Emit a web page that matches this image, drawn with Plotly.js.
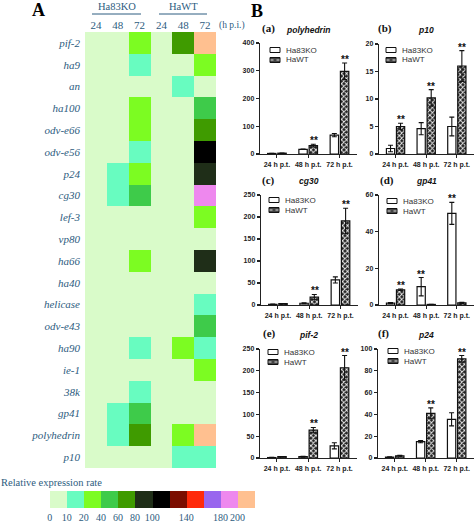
<!DOCTYPE html>
<html><head><meta charset="utf-8">
<script src="https://cdn.plot.ly/plotly-3.0.1.min.js"></script>
<style>html,body{margin:0;padding:0;background:#fff}</style></head>
<body><div id="chart" style="width:474px;height:521px"></div>
<script>
const W = 474, H = 521;
// Panel A: rate class per gene (0..11 indexes the legend bins), columns KO24 KO48 KO72 WT24 WT48 WT72
const genes = ['pif-2','ha9','an','ha100','odv-e66','odv-e56','p24','cg30','lef-3','vp80','ha66','ha40','helicase','odv-e43','ha90','ie-1','38k','gp41','polyhedrin','p10'];
const hours = ['24','48','72','24','48','72'];
const rateClass = [
 [0,0,2,0,4,11],[0,0,1,0,0,2],[0,0,0,0,1,0],[0,0,2,0,0,3],[0,0,2,0,0,4],
 [0,0,1,0,0,6],[0,1,2,0,0,5],[0,1,3,0,0,10],[0,0,0,0,0,2],[0,0,0,0,0,0],
 [0,0,2,0,0,5],[0,0,0,0,0,0],[0,0,0,0,0,1],[0,0,0,0,0,3],[0,0,1,0,2,1],
 [0,0,0,0,0,2],[0,0,1,0,0,0],[0,1,3,0,0,0],[0,1,4,0,2,11],[0,0,0,0,1,1]];
const binColors = ['#d9fbc9','#68fcc0','#7cfc22','#3ecb4a','#3f9b00','#1f2e18','#000000','#7b0d00','#ff2a0a','#9966ee','#ee88ee','#ffc090'];
const rateLabels = ['0','10','20','40','60','80','100','140','180','200'];
const rateLabelBins = [0,1,2,3,4,5,6,8,10,11];
// Panel B
const timepoints = ['24 h p.t.','48 h p.t.','72 h p.t.'];
const koPolyhedrin=[2,17,68], wtPolyhedrin=[3,30,298], koPolyhedrinErr=[.5,1,6], wtPolyhedrinErr=[.5,5,30];
const koP10=[1,4.6,5], wtP10=[5,10.2,16], koP10Err=[.6,1.1,1.7], wtP10Err=[.6,1.5,2.8];
const koCg30=[1.5,4,57], wtCg30=[3,18,191], koCg30Err=[.5,1,7], wtCg30Err=[.5,6,29];
const koGp41=[1,10,50], wtGp41=[8.3,.3,1.2], koGp41Err=[.3,5,6], wtGp41Err=[.4,.1,.3];
const koPif2=[1,3,28], wtPif2=[3,64,207], koPif2Err=[.5,1,7], wtPif2Err=[.5,6,28];
const koP24=[.8,15,35.5], wtP24=[2,41,91], koP24Err=[.2,1,6], wtP24Err=[.4,5,3];

const panels = [
 {tag:'(a)',name:'polyhedrin',ko:koPolyhedrin,wt:wtPolyhedrin,koE:koPolyhedrinErr,wtE:wtPolyhedrinErr,max:400,dt:100,x0:260,top:43,bot:154,stars:[['wt',1],['wt',2]],lx:270,ly:50},
 {tag:'(b)',name:'p10',ko:koP10,wt:wtP10,koE:koP10Err,wtE:wtP10Err,max:20,dt:5,x0:379,top:44,bot:154,stars:[['wt',0],['wt',1],['wt',2]],lx:386,ly:50},
 {tag:'(c)',name:'cg30',ko:koCg30,wt:wtCg30,koE:koCg30Err,wtE:wtCg30Err,max:250,dt:50,x0:261,top:195,bot:305,stars:[['wt',1],['wt',2]],lx:269,ly:200},
 {tag:'(d)',name:'gp41',ko:koGp41,wt:wtGp41,koE:koGp41Err,wtE:wtGp41Err,max:60,dt:20,x0:379,top:195,bot:305,stars:[['wt',0],['ko',1],['ko',2]],lx:387,ly:201},
 {tag:'(e)',name:'pif-2',ko:koPif2,wt:wtPif2,koE:koPif2Err,wtE:wtPif2Err,max:250,dt:50,x0:260,top:349,bot:458,stars:[['wt',1],['wt',2]],lx:268,ly:352},
 {tag:'(f)',name:'p24',ko:koP24,wt:wtP24,koE:koP24Err,wtE:wtP24Err,max:100,dt:20,x0:378,top:349,bot:458,stars:[['wt',1],['wt',2]],lx:388,ly:351}
];
const tagPos = [[261,29,308,30],[377,29,426,30],[261,180,309,181],[379,180,426,181],[262,333,308,335],[377,333,426,335]];

const INK = '#2d5c80', DARK = '#222';
const px = x => x / W, py = y => 1 - y / H;
const serif = 'Liberation Serif', sans = 'Liberation Sans';
const colorscale = [];
binColors.forEach((c,i)=>{colorscale.push([i/12,c]);colorscale.push([(i+1)/12,c]);});

const data = [{
  type:'heatmap', z:rateClass, x:[0,1,2,3,4,5], y:genes.map((g,i)=>i), xaxis:'x', yaxis:'y',
  zmin:0, zmax:12, colorscale, xgap:0, ygap:0, hoverinfo:'skip', showscale:true,
  colorbar:{orientation:'h', x:px(49.7), xanchor:'left', y:py(490.5), yanchor:'top', yref:'paper', thickness:16.5, thicknessmode:'pixels',
    len:205.2, lenmode:'pixels', outlinewidth:0, borderwidth:0, xpad:0, ypad:0,
    tickmode:'array', tickvals:rateLabelBins, ticktext:rateLabels, ticks:'', ticklabelposition:'outside bottom', tickangle:0,
    tickfont:{family:serif,size:10,color:INK}}
}];
const layout = {
  width:W, height:H, margin:{l:0,r:0,t:0,b:0,autoexpand:false}, paper_bgcolor:'#fff', plot_bgcolor:'#fff',
  showlegend:false, bargap:.345, bargroupgap:.18, barmode:'group',
  xaxis:{domain:[px(85),px(216)], range:[-.5,5.5], side:'top', anchor:'y', tickmode:'array', tickvals:[0,1,2,3,4,5], ticktext:hours,
    ticks:'', showgrid:false, zeroline:false, showline:false, tickfont:{family:serif,size:11,color:INK}, automargin:false},
  yaxis:{domain:[py(468),py(32)], range:[19.5,-.5], anchor:'x', tickmode:'array', tickvals:genes.map((g,i)=>i), ticktext:genes.map(g=>'<i>'+g+'</i>'),
    ticks:'', showgrid:false, zeroline:false, showline:false, tickfont:{family:serif,size:11,color:INK}, automargin:false, ticklabelstandoff:4},
  annotations:[], shapes:[]
};
const txt = (x,y,text,font,anchor) => layout.annotations.push({xref:'paper',yref:'paper',x:px(x),y:py(y),text,showarrow:false,font,xanchor:anchor||'center',yanchor:'middle',borderpad:0});
txt(38,10,'A',{family:serif,size:18,color:'#000',weight:'bold'});
txt(257,10.5,'B',{family:serif,size:18,color:'#000',weight:'bold'});
txt(117,6.5,'Ha83KO',{family:serif,size:10.5,color:INK});
txt(183,6.5,'HaWT',{family:serif,size:10.5,color:INK});
txt(218,25.5,'(h p.i.)',{family:serif,size:9.5,color:INK},'left');
txt(0,482,'Relative expression rate',{family:serif,size:10.5,color:INK},'left');
[[92,141],[159,207]].forEach(([a,b])=>layout.shapes.push({type:'line',xref:'paper',yref:'paper',x0:px(a),x1:px(b),y0:py(14),y1:py(14),line:{color:INK,width:1}}));

panels.forEach((p,i)=>{
  const n = i+2, xa='x'+n, ya='y'+n;
  const x1 = p.x0 + 97;
  const common = {type:'bar', x:[0,1,2], xaxis:xa, yaxis:ya, hoverinfo:'skip'};
  data.push(Object.assign({},common,{name:'Ha83KO', y:p.ko, marker:{color:'#fff',line:{color:'#111',width:1.2}},
     error_y:{type:'data',array:p.koE,color:'#111',thickness:1.1,width:2.5}}));
  data.push(Object.assign({},common,{name:'HaWT', y:p.wt, marker:{color:'#222',line:{color:'#111',width:1.2},pattern:{shape:'x',bgcolor:'#222',fgcolor:'#eee',size:3.6,solidity:.45}},
     error_y:{type:'data',array:p.wtE,color:'#111',thickness:1.1,width:2.5}}));
  const tv=[]; for(let v=0;v<=p.max;v+=p.dt) tv.push(v);
  layout['xaxis'+n]={domain:[px(p.x0),px(x1)], range:[-.54,2.56], anchor:ya, tickmode:'array', tickvals:[0,1,2], ticktext:timepoints,
     ticks:'outside', ticklen:3, tickwidth:1.2, tickcolor:DARK, showline:true, linecolor:DARK, linewidth:1.3, showgrid:false, zeroline:false,
     tickfont:{family:sans,size:7,color:DARK,weight:'bold'}, automargin:false};
  layout['yaxis'+n]={domain:[py(p.bot),py(p.top)], range:[0,p.max], anchor:xa, tickmode:'array', tickvals:tv,
     ticks:'outside', ticklen:3, tickwidth:1.2, tickcolor:DARK, showline:true, linecolor:DARK, linewidth:1.3, showgrid:false, zeroline:false,
     tickfont:{family:sans,size:7,color:DARK,weight:'bold'}, automargin:false};
  const tp=tagPos[i];
  txt(tp[0],tp[1],p.tag,{family:serif,size:11,color:'#111',weight:'bold'},'left');
  txt(tp[2],tp[3],'<i>'+p.name+'</i>',{family:sans,size:8.5,color:'#111',weight:'bold'});
  p.stars.forEach(([g,k])=>{
    const val = g==='wt'? p.wt[k]+p.wtE[k] : p.ko[k]+p.koE[k];
    layout.annotations.push({xref:xa,yref:ya,x:k+(g==='wt'?.17:-.17),y:val,text:'**',showarrow:false,yanchor:'bottom',yshift:-4,
      font:{family:sans,size:10,color:'#111',weight:'bold'}});
  });
  // legend keys
  [['Ha83KO','#fff',0],['HaWT','#444',10]].forEach(([lab,fill,dy])=>{
    layout.shapes.push({type:'rect',xref:'paper',yref:'paper',x0:px(p.lx),x1:px(p.lx+10),y0:py(p.ly+dy-2.5),y1:py(p.ly+dy+2.5),fillcolor:fill,line:{color:'#111',width:1}});
    if(dy) layout.shapes.push({type:'line',xref:'paper',yref:'paper',x0:px(p.lx+.5),x1:px(p.lx+9.5),y0:py(p.ly+dy),y1:py(p.ly+dy),line:{color:'#ddd',width:1.2,dash:'dot'}});
    txt(p.lx+15,p.ly+dy,lab,{family:sans,size:8,color:'#333'},'left');
  });
});
Plotly.newPlot('chart',data,layout,{displayModeBar:false,staticPlot:true});
</script></body></html>
